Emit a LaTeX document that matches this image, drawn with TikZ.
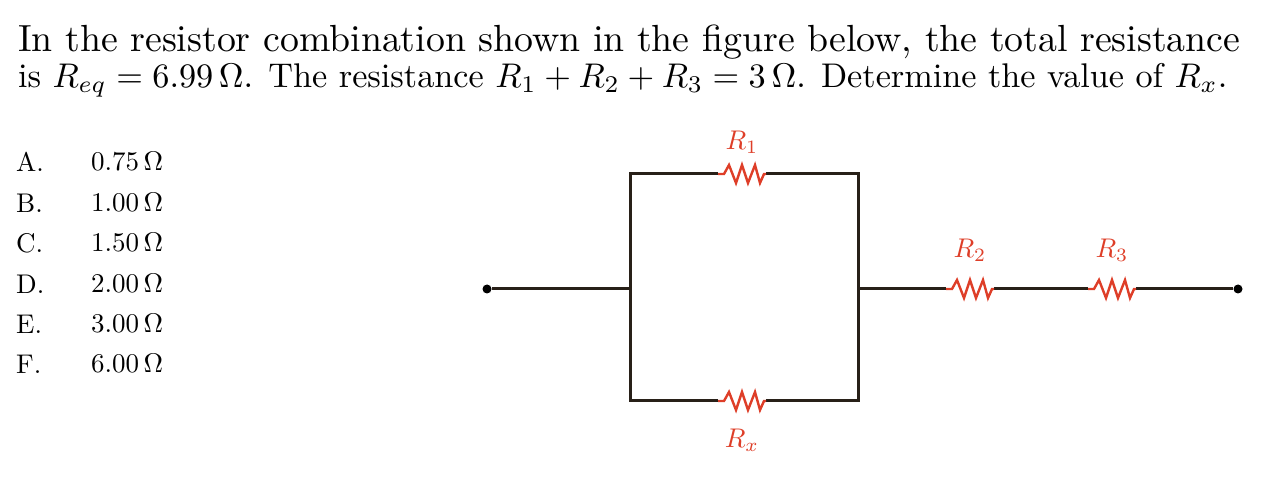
\documentclass[tikz,border=0pt]{standalone}
\usepackage{amsmath}
\definecolor{rred}{RGB}{222,62,40}
\definecolor{wire}{RGB}{40,32,24}
\tikzset{w/.style={draw=wire,line width=3pt},
 res/.style={draw=rred,line width=2.4pt,line join=miter},
 dot/.style={circle,fill=black,inner sep=0pt,minimum size=9pt},
 lbl/.style={text=rred,inner sep=0pt},
 opt/.style={anchor=west,inner sep=0pt}}
\newcommand{\zig}[2]{\draw[res] (#1-24,#2) -- (#1-18,#2) -- (#1-13,#2-9) -- (#1-6,#2+9) -- (#1,#2-9) -- (#1+6,#2+9) -- (#1+13,#2-9) -- (#1+18,#2+9) -- (#1+22,#2) -- (#1+24,#2);}
\begin{document}
\begin{tikzpicture}[x=1pt,y=-1pt]
\useasboundingbox (0,0) rectangle (1278,478);
\node[anchor=west,inner sep=0pt] (l1) at (18,42) {\resizebox{1222pt}{!}{In the resistor combination shown in the figure below, the total resistance}};
\node[anchor=west,inner sep=0pt] (l2) at (18,80) {\resizebox{1209pt}{!}{is $R_{eq}=6.99\,\Omega$. The resistance $R_1+R_2+R_3=3\,\Omega$. Determine the value of $R_x$.}};
\foreach \l/\v/\y in {A./0.75/162,B./1.00/203,C./1.50/243,D./2.00/284,E./3.00/324,F./6.00/364}{
 \node[opt] (o\l) at (16,\y) {\scalebox{2.7}{\l}};
 \node[opt] (v\l) at (91,\y) {\scalebox{2.7}{\v\,$\Omega$}};}
\node[dot] (a) at (487,289) {};
\node[dot] (b) at (1238,289) {};
\coordinate (jl) at (630,289);
\coordinate (jr) at (858,289);
\draw[w] (a) -- (jl) -- (630,174) -- (718,174);
\draw[w] (766,174) -- (858,174) -- (858,401) -- (766,401);
\draw[w] (718,401) -- (630,401) -- (jl);
\draw[w] (jr) -- (946,289);
\draw[w] (994,289) -- (1088,289);
\draw[w] (1136,289) -- (b);
\zig{742}{174}
\zig{742}{401}
\zig{970}{289}
\zig{1112}{289}
\node[lbl] (L1) at (742,142) {\scalebox{2.7}{$R_1$}};
\node[lbl] (L2) at (970,250) {\scalebox{2.7}{$R_2$}};
\node[lbl] (L3) at (1112,250) {\scalebox{2.7}{$R_3$}};
\node[lbl] (Lx) at (742,440) {\scalebox{2.7}{$R_x$}};
\end{tikzpicture}
\end{document}
